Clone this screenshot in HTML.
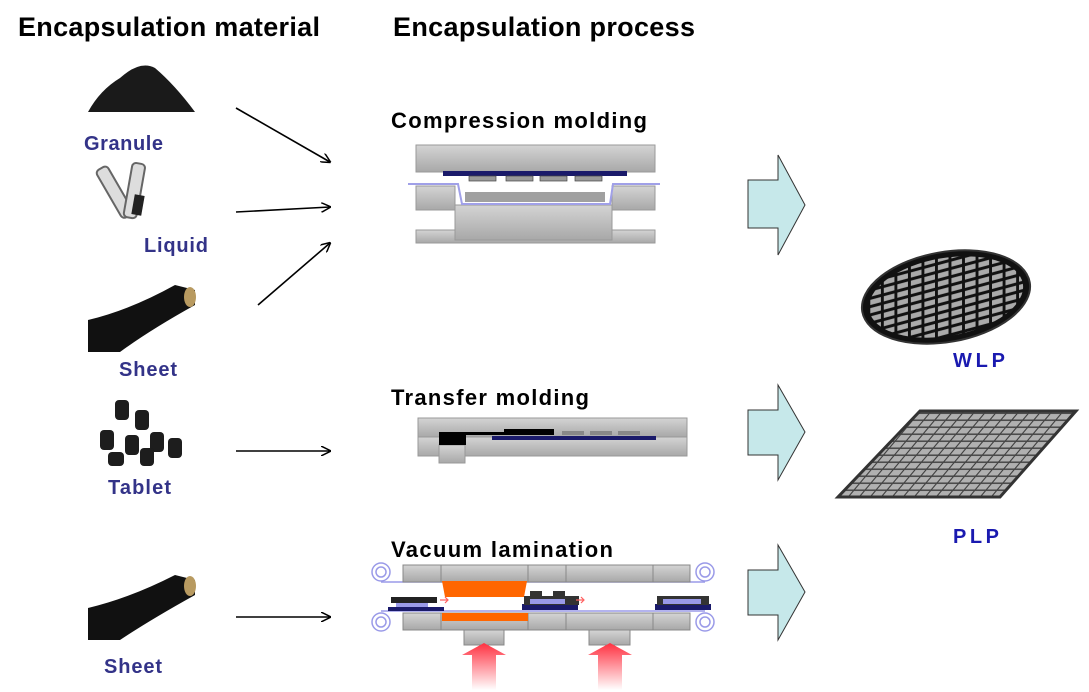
<!DOCTYPE html>
<html><head><meta charset="utf-8"><style>
body{margin:0;background:#fff;width:1089px;height:692px;overflow:hidden;font-family:"Liberation Sans",sans-serif}
svg{position:absolute;left:0;top:0}
</style></head><body>
<svg width="1089" height="692" viewBox="0 0 1089 692">
<defs>
<linearGradient id="g" x1="0" y1="0" x2="0" y2="1"><stop offset="0" stop-color="#d4d4d4"/><stop offset="1" stop-color="#a8a8a8"/></linearGradient>
<linearGradient id="r" x1="0" y1="1" x2="0" y2="0"><stop offset="0" stop-color="#fff"/><stop offset="1" stop-color="#ff3040"/></linearGradient>
<pattern id="grid" width="14" height="8" patternUnits="userSpaceOnUse" patternTransform="rotate(-5) skewX(-15)"><rect width="14" height="8" fill="#111"/><rect x="1.5" y="1.5" width="11" height="5" fill="#aaa"/></pattern>
<pattern id="grid2" width="11" height="7" patternUnits="userSpaceOnUse" patternTransform="skewX(-40)"><rect width="11" height="7" fill="#444"/><rect x="1" y="1" width="9.5" height="5.5" fill="#b0b0b0"/></pattern>
<marker id="ah" markerWidth="10" markerHeight="10" refX="9" refY="5" orient="auto" markerUnits="userSpaceOnUse"><path d="M0,0 L10,5 L0,10" fill="none" stroke="#000" stroke-width="1.5"/></marker>
</defs>
<g font-weight="bold" font-size="27" fill="#000">
<text x="18" y="36" textLength="302">Encapsulation material</text>
<text x="393" y="36" textLength="302">Encapsulation process</text>
</g>
<g font-weight="bold" font-size="22" fill="#000">
<text x="391" y="128" textLength="256">Compression molding</text>
<text x="391" y="405" textLength="198">Transfer molding</text>
<text x="391" y="557" textLength="222">Vacuum lamination</text>
</g>
<g font-weight="bold" font-size="20" fill="#333388">
<text x="84" y="150" textLength="79">Granule</text>
<text x="144" y="252" textLength="64">Liquid</text>
<text x="119" y="376" textLength="58">Sheet</text>
<text x="108" y="494" textLength="63">Tablet</text>
<text x="104" y="673" textLength="58">Sheet</text>
</g>
<g font-weight="bold" font-size="20" fill="#1a1ab0">
<text x="953" y="367" textLength="52">WLP</text>
<text x="953" y="543" textLength="46">PLP</text>
</g>
<path d="M88,112 Q100,90 120,78 Q140,60 155,68 Q175,85 195,112 Z" fill="#1a1a1a"/>
<g stroke="#666" stroke-width="2"><rect x="108" y="165" width="13" height="55" rx="4" fill="#ddd" transform="rotate(-30 114 192)"/><rect x="128" y="163" width="13" height="55" rx="4" fill="#ddd" transform="rotate(10 134 190)"/></g>
<rect x="133" y="195" width="10" height="20" fill="#222" transform="rotate(10 138 205)"/>
<path d="M88,352 L88,320 Q130,310 175,285 L195,290 L195,305 Q150,330 120,352 Z" fill="#111"/>
<ellipse cx="190" cy="297" rx="6" ry="10" fill="#b89a60"/>
<path d="M88,640 L88,608 Q130,598 175,575 L195,580 L195,595 Q150,620 120,640 Z" fill="#111"/>
<ellipse cx="190" cy="586" rx="6" ry="10" fill="#b89a60"/>
<g fill="#1d1d1d">
<rect x="115" y="400" width="14" height="20" rx="4"/><rect x="135" y="410" width="14" height="20" rx="4"/><rect x="100" y="430" width="14" height="20" rx="4"/><rect x="125" y="435" width="14" height="20" rx="4"/><rect x="150" y="432" width="14" height="20" rx="4"/><rect x="168" y="438" width="14" height="20" rx="4"/><rect x="140" y="448" width="14" height="18" rx="4"/><rect x="108" y="452" width="16" height="14" rx="4"/>
</g>
<g stroke="#000" stroke-width="1.6" marker-end="url(#ah)">
<line x1="236" y1="108" x2="330" y2="162"/>
<line x1="236" y1="212" x2="330" y2="207"/>
<line x1="258" y1="305" x2="330" y2="243"/>
<line x1="236" y1="451" x2="330" y2="451"/>
<line x1="236" y1="617" x2="330" y2="617"/>
</g>
<g stroke="#999" stroke-width="1">
<rect x="416" y="145" width="239" height="27" fill="url(#g)"/>
<rect x="416" y="186" width="39" height="24" fill="url(#g)"/>
<rect x="612" y="186" width="43" height="24" fill="url(#g)"/>
<rect x="416" y="230" width="239" height="13" fill="url(#g)"/>
<rect x="455" y="205" width="157" height="35" fill="url(#g)"/>
</g>
<rect x="443" y="171" width="184" height="5" fill="#1a1a6a"/>
<g fill="#999" stroke="#444" stroke-width="0.7"><rect x="469" y="176" width="27" height="5"/><rect x="506" y="176" width="27" height="5"/><rect x="540" y="176" width="27" height="5"/><rect x="575" y="176" width="27" height="5"/></g>
<path d="M408,184 L458,184 L462,204 L610,204 L613,184 L660,184" fill="none" stroke="#a0a0e8" stroke-width="2"/>
<rect x="465" y="192" width="140" height="10" fill="#888" opacity="0.8"/>
<g stroke="#999"><rect x="418" y="418" width="269" height="19" fill="url(#g)"/><rect x="418" y="437" width="269" height="19" fill="url(#g)"/><rect x="439" y="445" width="26" height="18" fill="url(#g)"/></g>
<rect x="439" y="432" width="27" height="13" fill="#000"/><rect x="466" y="432" width="40" height="3" fill="#000"/><rect x="504" y="429" width="50" height="6" fill="#000"/>
<rect x="492" y="436" width="164" height="4" fill="#1a1a6a"/>
<g fill="#888"><rect x="562" y="431" width="22" height="4"/><rect x="590" y="431" width="22" height="4"/><rect x="618" y="431" width="22" height="4"/></g>
<g fill="none" stroke="#9a9ae8" stroke-width="1.5"><circle cx="381" cy="572" r="9"/><circle cx="381" cy="572" r="5"/><circle cx="705" cy="572" r="9"/><circle cx="705" cy="572" r="5"/><circle cx="381" cy="622" r="9"/><circle cx="381" cy="622" r="5"/><circle cx="705" cy="622" r="9"/><circle cx="705" cy="622" r="5"/>
<line x1="381" y1="582" x2="705" y2="582"/><line x1="381" y1="611" x2="705" y2="611"/></g>
<g fill="url(#g)" stroke="#888"><rect x="403" y="565" width="38" height="17"/><rect x="441" y="565" width="87" height="17"/><rect x="528" y="565" width="38" height="17"/><rect x="566" y="565" width="87" height="17"/><rect x="653" y="565" width="37" height="17"/>
<rect x="403" y="613" width="38" height="17"/><rect x="441" y="613" width="87" height="17"/><rect x="528" y="613" width="38" height="17"/><rect x="566" y="613" width="87" height="17"/><rect x="653" y="613" width="37" height="17"/>
<rect x="464" y="630" width="40" height="15"/><rect x="589" y="630" width="41" height="15"/></g>
<path d="M442,581 L527,581 L524,597 L445,597 Z" fill="#ff6600"/>
<rect x="442" y="613" width="86" height="8" fill="#ff6600"/>
<rect x="388" y="607" width="56" height="4" fill="#1a1a6a"/><rect x="391" y="597" width="46" height="6" fill="#222"/><rect x="396" y="603" width="32" height="4" fill="#9a9ae8"/>
<rect x="522" y="604" width="56" height="6" fill="#1a1a6a"/><rect x="524" y="596" width="55" height="9" fill="#333"/><rect x="530" y="591" width="12" height="5" fill="#333"/><rect x="553" y="591" width="12" height="5" fill="#333"/><rect x="530" y="599" width="35" height="5" fill="#9a9ae8"/>
<rect x="655" y="604" width="56" height="6" fill="#1a1a6a"/><rect x="657" y="596" width="52" height="9" fill="#333"/><rect x="663" y="599" width="38" height="5" fill="#9a9ae8"/>
<g stroke="#ff6060" fill="none" stroke-width="1.2"><path d="M440,600 h8 m-3,-3 l3,3 l-3,3"/><path d="M576,600 h8 m-3,-3 l3,3 l-3,3"/></g>
<path d="M462,655 L484,643 L506,655 L496,655 L496,690 L472,690 L472,655 Z" fill="url(#r)"/>
<path d="M588,655 L610,643 L632,655 L622,655 L622,690 L598,690 L598,655 Z" fill="url(#r)"/>
<g fill="#c6e8ea" stroke="#333" stroke-width="1">
<path d="M748,180 L778,180 L778,155 L805,205 L778,255 L778,228 L748,228 Z"/>
<path d="M748,410 L778,410 L778,385 L805,432 L778,480 L778,455 L748,455 Z"/>
<path d="M748,570 L778,570 L778,545 L805,592 L778,640 L778,615 L748,615 Z"/>
</g>
<ellipse cx="946" cy="297" rx="85" ry="45" transform="rotate(-10 946 297)" fill="#111" stroke="#333" stroke-width="2"/>
<ellipse cx="946" cy="297" rx="78" ry="39" transform="rotate(-10 946 297)" fill="url(#grid)"/>
<path d="M920,411 L1076,411 L1000,497 L838,497 Z" fill="url(#grid2)" stroke="#333" stroke-width="3"/>
</svg>
</body></html>
